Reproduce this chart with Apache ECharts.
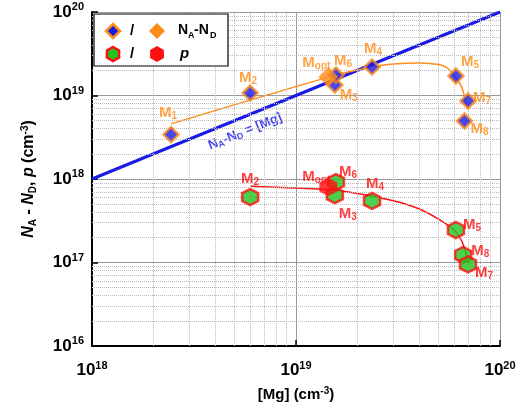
<!DOCTYPE html><html><head><meta charset="utf-8">
<script src="https://cdn.jsdelivr.net/npm/echarts@6/dist/echarts.min.js"></script>
<style>html,body{margin:0;padding:0;background:#fff}#c{width:520px;height:409px}</style></head><body><div id="c"></div>
<script>
const names = ['M1','M2','M3','M6','Mopt','M4','M5','M7','M8'];
const mg = [2.44e18,5.96e18,1.55e19,1.57e19,1.44e19,2.36e19,6.08e19,6.97e19,6.7e19];
const nand = [3.4e18,1.07e19,1.34e19,1.76e19,1.66e19,2.19e19,1.71e19,8.6e18,4.95e18];
const naOffsets = [[-3,-22],[-2,-15],[14,10],[7,-14],[-12,-14],[1,-18],[14,-14],[14,-3],[15,8]];
const pNames = ['M2','M3','M6','Mopt','M4','M5','M8','M7'];
const pMg = [5.96e18,1.55e19,1.57e19,1.44e19,2.36e19,6.08e19,6.6e19,6.97e19];
const pVal = [6.08e17,6.4e17,9.2e17,8.0e17,5.46e17,2.45e17,1.23e17,9.5e16];
const pOffsets = [[0,-18],[13,19],[12,-10],[-12,-10],[3,-17],[16,-5],[17,-4],[16,8]];
const naFitX = [2.44e18,1.44e19,2e19,2.5e19,3e19,4e19,5e19,5.5e19,6e19,6.5e19,6.9e19];
const naFitY = [4.57e18,1.66e19,2.02e19,2.25e19,2.38e19,2.45e19,2.35e19,2.15e19,1.71e19,1.25e19,6.9e18];
const pFitX = [6e18,1e19,1.5e19,2e19,3e19,4e19,5e19,6e19,6.5e19,7e19];
const pFitY = [8.2e17,7.8e17,7.4e17,6.7e17,5.5e17,4.4e17,3.3e17,2.4e17,1.8e17,1.0e17];
const lineX = [1e18,1e20];
const minorVals = [2,3,4,5,6,7,8,9];
const xMinor = [], yMinor = [];
[1e18,1e19].forEach(d=>minorVals.forEach(m=>xMinor.push(m*d)));
[1e16,1e17,1e18,1e19].forEach(d=>minorVals.forEach(m=>yMinor.push(m*d)));

const ORANGE='#ff8c1a', RED='#ff1010', BLUE='#1a1ae6', GREEN='#22c422';
const HEX='path://M0,-10L8.66,-5L8.66,5L0,10L-8.66,5L-8.66,-5Z';
function lbl(n){ if(n==='Mopt') return '{b|M}{sub|opt}'; return '{b|M}{sub|'+n.slice(1)+'}'; }
const supRich = {b:{fontSize:17,fontWeight:'bold',color:'#000'},s:{fontSize:11,fontWeight:'bold',color:'#000',verticalAlign:'top',padding:[0,0,10,0]}};
function expFmt(v){ return '{b|10}{s|'+Math.round(Math.log10(v))+'}'; }
function hexPts(cx,cy,r){const p=[];for(let k=0;k<6;k++){const a=Math.PI/3*k-Math.PI/2;p.push([cx+r*Math.cos(a),cy+r*Math.sin(a)]);}return p;}
function diaPts(cx,cy,r){return [[cx,cy-r],[cx+r,cy],[cx,cy+r],[cx-r,cy]];}

const chart = echarts.init(document.getElementById('c'));
chart.setOption({
  animation:false,
  textStyle:{fontFamily:'Liberation Sans, Arial'},
  grid:{left:92,right:20,top:12,bottom:63},
  xAxis:{type:'log',min:1e18,max:1e20,logBase:10,
    axisLine:{lineStyle:{color:'#000',width:2}},axisTick:{inside:true,length:6,lineStyle:{color:'#000',width:1.5}},
    splitLine:{show:true,lineStyle:{color:'#999',width:1}},
    axisLabel:{formatter:expFmt,rich:supRich,margin:14},
    name:'{a|[Mg] (cm}{s|-3}{a|)}',nameLocation:'middle',nameGap:40,
    nameTextStyle:{rich:{a:{fontSize:15,fontWeight:'bold',color:'#000'},s:{fontSize:10,fontWeight:'bold',color:'#000',verticalAlign:'top',padding:[0,0,8,0]}}}},
  yAxis:{type:'log',min:1e16,max:1e20,logBase:10,
    axisLine:{lineStyle:{color:'#000',width:2}},axisTick:{inside:true,length:6,lineStyle:{color:'#000',width:1.5}},
    splitLine:{show:true,lineStyle:{color:'#999',width:1}},
    axisLabel:{formatter:expFmt,rich:supRich,margin:8},
    name:'{i|N}{s2|A}{a| - }{i|N}{s2|D}{a|, }{i|p}{a| (cm}{s|-3}{a|)}',nameLocation:'middle',nameGap:54,nameRotate:90,
    nameTextStyle:{rich:{a:{fontSize:16,fontWeight:'bold',color:'#000'},i:{fontSize:16,fontWeight:'bold',fontStyle:'italic',color:'#000'},
      s:{fontSize:10,fontWeight:'bold',color:'#000',verticalAlign:'top',padding:[0,0,8,0]},
      s2:{fontSize:10,fontWeight:'bold',color:'#000',verticalAlign:'bottom',padding:[8,0,0,0]}}}},
  graphic:[
    {type:'rect',shape:{x:94,y:14,width:134,height:52},style:{fill:'#fff',stroke:'#000',lineWidth:1.2},z:100},
    {type:'polygon',shape:{points:diaPts(113,31,7)},style:{fill:BLUE,stroke:ORANGE,lineWidth:2.5},z:101},
    {type:'text',x:130,y:23,style:{text:'/',font:'bold 15px sans-serif',fill:'#000'},z:101},
    {type:'polygon',shape:{points:diaPts(157,31,8)},style:{fill:ORANGE},z:101},
    {type:'text',x:178,y:23,style:{text:'N',font:'bold 14px sans-serif',fill:'#000'},z:101},
    {type:'text',x:188,y:31,style:{text:'A',font:'bold 9px sans-serif',fill:'#000'},z:101},
    {type:'text',x:194,y:23,style:{text:'-N',font:'bold 14px sans-serif',fill:'#000'},z:101},
    {type:'text',x:210,y:31,style:{text:'D',font:'bold 9px sans-serif',fill:'#000'},z:101},
    {type:'polygon',shape:{points:hexPts(113,54,7)},style:{fill:GREEN,stroke:RED,lineWidth:2.5},z:101},
    {type:'text',x:130,y:46,style:{text:'/',font:'bold 15px sans-serif',fill:'#000'},z:101},
    {type:'polygon',shape:{points:hexPts(157,54,8)},style:{fill:RED},z:101},
    {type:'text',x:180,y:46,style:{text:'p',font:'italic bold 15px sans-serif',fill:'#000'},z:101}
  ],
  series:[
    {type:'line',data:[],silent:true,markLine:{silent:true,symbol:'none',label:{show:false},
      lineStyle:{color:'#bbb',type:'dotted',width:1},
      data:xMinor.map(v=>({xAxis:v})).concat(yMinor.map(v=>({yAxis:v})))}},
    {type:'line',data:lineX.map(v=>[v,v]),symbol:'none',lineStyle:{color:BLUE,width:3},z:3},
    {type:'scatter',data:[[5.2e18,5.2e18]],symbolSize:0,z:4,
      label:{show:true,formatter:'{b|N}{s|A}{b|-N}{s|D}{b| = [Mg]}',rotate:22,offset:[2,14],color:BLUE,
        rich:{b:{fontSize:13,fontWeight:'bold',color:BLUE},s:{fontSize:9,fontWeight:'bold',color:BLUE,verticalAlign:'bottom',padding:[6,0,0,0]}}}},
    {type:'line',data:naFitX.map((x,i)=>[x,naFitY[i]]),symbol:'none',smooth:0.4,lineStyle:{color:ORANGE,width:1.5},z:4},
    {type:'line',data:pFitX.map((x,i)=>[x,pFitY[i]]),symbol:'none',smooth:0.4,lineStyle:{color:RED,width:1.5},z:4},
    {type:'scatter',z:5,data:mg.map((x,i)=>({value:[x,nand[i]],
        symbol:'diamond',symbolSize:names[i]==='Mopt'?20:15,
        itemStyle:names[i]==='Mopt'?{color:ORANGE,borderWidth:0}:{color:BLUE,borderColor:ORANGE,borderWidth:2.5},
        label:{show:true,position:'inside',formatter:lbl(names[i]),offset:naOffsets[i],color:ORANGE,rich:{b:{fontSize:15,fontWeight:'bold',color:ORANGE},sub:{fontSize:10,fontWeight:'bold',color:ORANGE,verticalAlign:'bottom',padding:[7,0,0,0]}}}}))},
    {type:'scatter',z:5,data:pMg.map((x,i)=>({value:[x,pVal[i]],
        symbol:HEX,symbolSize:pNames[i]==='Mopt'?18:16,
        itemStyle:pNames[i]==='Mopt'?{color:RED,borderWidth:0}:{color:GREEN,borderColor:RED,borderWidth:2.5},
        label:{show:true,position:'inside',formatter:lbl(pNames[i]),offset:pOffsets[i],color:RED,rich:{b:{fontSize:15,fontWeight:'bold',color:RED},sub:{fontSize:10,fontWeight:'bold',color:RED,verticalAlign:'bottom',padding:[7,0,0,0]}}}}))}
  ]
});
</script></body></html>
